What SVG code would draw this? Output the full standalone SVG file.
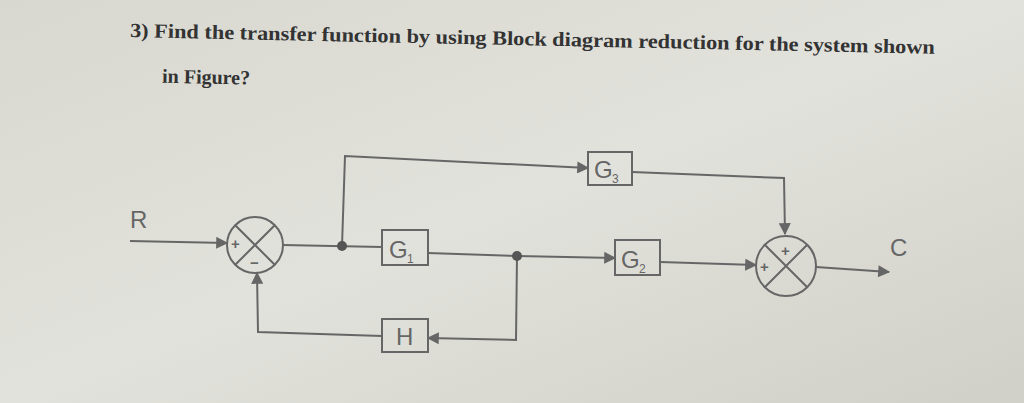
<svg xmlns="http://www.w3.org/2000/svg" width="1024" height="403" viewBox="0 0 1024 403">
<defs>
<linearGradient id="bg" x1="0" y1="0" x2="1" y2="1"><stop offset="0" stop-color="#d8d8d0"/><stop offset="0.5" stop-color="#e2e2dc"/><stop offset="1" stop-color="#d0d0c8"/></linearGradient>
<marker id="ar" viewBox="0 0 10 10" refX="9" refY="5" markerWidth="13" markerHeight="12" markerUnits="userSpaceOnUse" orient="auto"><path d="M0,0 L10,5 L0,10 z" fill="#666"/></marker>
</defs>
<style>
.t{font-family:"Liberation Serif",serif;font-weight:bold;font-size:20px;fill:#333}
.l{font-family:"Liberation Sans",sans-serif;font-size:24px;fill:#666}
.s{font-family:"Liberation Sans",sans-serif;font-size:12px;fill:#666}
.p{font-family:"Liberation Sans",sans-serif;font-size:15px;font-weight:bold;fill:#666}
.b{fill:none;stroke:#666;stroke-width:2}
.c{fill:none;stroke:#666;stroke-width:2;marker-end:url(#ar)}
</style>
<rect width="1024" height="403" fill="url(#bg)"/>
<g transform="rotate(1.2 130 35)">
<text class="t" x="130" y="37" textLength="805" lengthAdjust="spacingAndGlyphs">3)  Find the transfer function by using Block diagram reduction for the system shown</text>
<text class="t" x="163" y="82">in Figure?</text>
</g>
<text class="l" x="130" y="228">R</text>
<text class="l" x="890" y="256">C</text>
<g id="connectors">
<path class="c" d="M130,241 L227,243"/>
<path class="b" d="M283,245 L382,247"/>
<path class="c" d="M342,246 L345,156 L588,168"/>
<path class="c" d="M428,253 L517,256 L615,258"/>
<path class="c" d="M632,172 L784,178 L785,234"/>
<path class="c" d="M660,262 L756,265"/>
<path class="c" d="M816,267 L889,272"/>
<path class="c" d="M517,256 L516,340 L428,338"/>
<path class="c" d="M382,336 L258,332 L257,273"/>
<circle cx="342" cy="246" r="5" fill="#555"/>
<circle cx="517" cy="256" r="5" fill="#555"/>
</g>
<g id="sum1"><circle class="b" cx="255" cy="245" r="28"/><path class="b" d="M235,225 L275,265 M275,225 L235,265"/><text class="p" x="231" y="249">+</text><text class="p" x="250" y="268">−</text></g>
<g id="sum2"><circle class="b" cx="786" cy="266" r="30"/><path class="b" d="M765,245 L807,287 M807,245 L765,287"/><text class="p" x="781" y="256">+</text><text class="p" x="760" y="272">+</text></g>
<g id="G1"><rect class="b" x="382" y="230" width="46" height="35"/><text class="l" x="389" y="258">G</text><text class="s" x="407" y="263">1</text></g>
<g id="G2"><rect class="b" x="615" y="240" width="45" height="35"/><text class="l" x="621" y="268">G</text><text class="s" x="639" y="273">2</text></g>
<g id="G3"><rect class="b" x="588" y="152" width="44" height="33"/><text class="l" x="594" y="178">G</text><text class="s" x="612" y="183">3</text></g>
<g id="H"><rect class="b" x="382" y="319" width="46" height="33"/><text class="l" x="396" y="345">H</text></g>
</svg>
